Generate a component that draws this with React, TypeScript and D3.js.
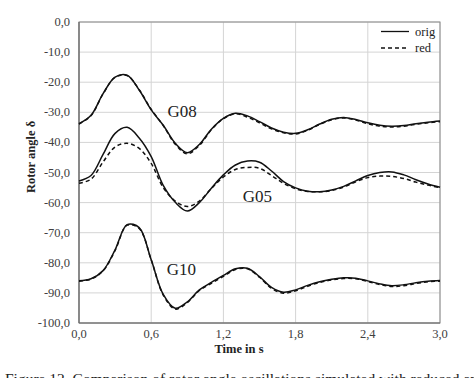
import React from "react";
import * as d3 from "d3";

const times = d3.range(0, 31).map((i) => i / 10);

const g08Orig = [-33.8, -31.0, -23.8, -18.3, -17.7, -22.6, -29.2, -34.3, -40.3, -43.4, -40.7, -35.6, -32.0, -30.3, -31.2, -33.1, -35.2, -36.6, -37.0, -35.8, -33.9, -32.3, -31.7, -32.4, -33.5, -34.3, -34.6, -34.4, -33.8, -33.3, -32.9];
const g08Red = [-33.9, -31.1, -23.9, -18.4, -17.8, -22.5, -29.0, -34.4, -40.6, -43.8, -41.0, -35.8, -32.1, -30.5, -31.6, -33.5, -35.5, -36.8, -37.2, -36.0, -34.0, -32.5, -31.9, -32.6, -33.8, -34.6, -34.9, -34.6, -34.0, -33.5, -33.1];
const g05Orig = [-52.8, -51.0, -44.0, -37.0, -35.0, -38.5, -44.7, -54.3, -59.9, -62.8, -60.0, -55.2, -50.8, -47.5, -46.2, -46.6, -49.5, -53.0, -55.1, -56.2, -56.4, -55.8, -54.6, -52.8, -51.0, -50.0, -49.8, -50.8, -52.4, -53.8, -54.9];
const g05Red = [-53.6, -52.2, -46.5, -41.5, -40.3, -42.0, -47.0, -55.0, -59.5, -61.3, -59.5, -55.3, -51.5, -49.0, -48.3, -48.6, -51.0, -53.6, -55.4, -56.3, -56.4, -56.0, -54.8, -53.1, -51.7, -51.2, -51.3, -52.0, -53.2, -54.2, -55.0];
const g10Orig = [-86.0, -85.3, -82.6, -75.7, -67.3, -68.3, -79.0, -90.5, -95.1, -93.0, -89.0, -86.5, -84.2, -82.0, -81.8, -84.6, -88.2, -89.8, -89.0, -87.5, -86.3, -85.5, -85.0, -85.1, -86.0, -87.0, -87.6, -87.3, -86.6, -86.1, -85.9];
const g10Red = [-86.1, -85.4, -82.7, -75.9, -67.5, -68.6, -79.0, -90.7, -95.4, -93.2, -89.2, -86.8, -84.5, -82.2, -82.0, -84.8, -88.5, -90.1, -89.3, -87.8, -86.5, -85.7, -85.2, -85.3, -86.2, -87.2, -87.9, -87.6, -86.9, -86.3, -86.1];

const xTicks = [0, 0.6, 1.2, 1.8, 2.4, 3.0];
const yTicks = [0, -10, -20, -30, -40, -50, -60, -70, -80, -90, -100];

const seriesLabels = [
  { name: "G08", t: 0.735, v: -31.6 },
  { name: "G05", t: 1.361, v: -59.7 },
  { name: "G10", t: 0.729, v: -84.1 },
];

const legendItems = ["orig", "red"];

const fmt = (v: number) => v.toFixed(1).replace(".", ",");

export default function App() {
  const left = 79, right = 440, top = 22, bottom = 323;
  const x = d3.scaleLinear().domain([0, 3]).range([left, right]);
  const y = d3.scaleLinear().domain([-100, 0]).range([bottom, top]);
  const line = d3
    .line<number>()
    .x((_, i) => x(times[i]))
    .y((d) => y(d))
    .curve(d3.curveCatmullRom.alpha(0.5));

  const font = "Liberation Serif, serif";
  const solid = [g08Orig, g05Orig, g10Orig];
  const dashed = [g08Red, g05Red, g10Red];

  return (
    <svg width={474} height={378} style={{ position: "absolute", left: 0, top: 0, background: "#fff", fontFamily: font }}>
      <rect x={0} y={0} width={474} height={378} fill="#fff" />
      {yTicks.map((v) => (
        <line key={"gy" + v} x1={left} x2={right} y1={y(v)} y2={y(v)} stroke="#d4d4d4" strokeWidth={1} />
      ))}
      {xTicks.map((v) => (
        <line key={"gx" + v} x1={x(v)} x2={x(v)} y1={top} y2={bottom} stroke="#d4d4d4" strokeWidth={1} />
      ))}
      <rect x={left} y={top} width={right - left} height={bottom - top} fill="none" stroke="#8a8a8a" strokeWidth={1} />
      <line x1={left} x2={left} y1={top} y2={bottom} stroke="#6a6a6a" strokeWidth={1.2} />
      <line x1={left} x2={right} y1={bottom} y2={bottom} stroke="#6a6a6a" strokeWidth={1.2} />

      {dashed.map((s, i) => (
        <path key={"d" + i} d={line(s) || ""} fill="none" stroke="#111" strokeWidth={1.5} strokeDasharray="4,3" />
      ))}
      {solid.map((s, i) => (
        <path key={"s" + i} d={line(s) || ""} fill="none" stroke="#111" strokeWidth={1.5} />
      ))}

      {yTicks.map((v) => (
        <text key={"ty" + v} x={70} y={y(v) + 4} textAnchor="end" fontSize={12.5} fill="#404040">
          {fmt(v)}
        </text>
      ))}
      {xTicks.map((v) => (
        <text key={"tx" + v} x={x(v)} y={338} textAnchor="middle" fontSize={12.5} fill="#404040">
          {fmt(v)}
        </text>
      ))}
      <text x={239} y={353} textAnchor="middle" fontSize={12.5} fontWeight="bold" fill="#222">
        Time in s
      </text>
      <text transform="translate(35,157) rotate(-90)" textAnchor="middle" fontSize={12.5} fontWeight="bold" fill="#222">
        Rotor angle δ
      </text>

      {seriesLabels.map((l) => (
        <text key={l.name} x={x(l.t)} y={y(l.v)} fontSize={17} fill="#222">
          {l.name}
        </text>
      ))}

      {legendItems.map((name, i) => (
        <g key={name}>
          <line x1={381} x2={409} y1={31.5 + i * 16.5} y2={31.5 + i * 16.5} stroke="#111" strokeWidth={1.3} strokeDasharray={i === 1 ? "4,3" : undefined} />
          <text x={415} y={35.5 + i * 16.5} fontSize={12.5} fill="#222">
            {name}
          </text>
        </g>
      ))}

      <text x={5} y={384} fontSize={15.5} fill="#222">
        Figure 12. Comparison of rotor angle oscillations simulated with reduced and
      </text>
    </svg>
  );
}
